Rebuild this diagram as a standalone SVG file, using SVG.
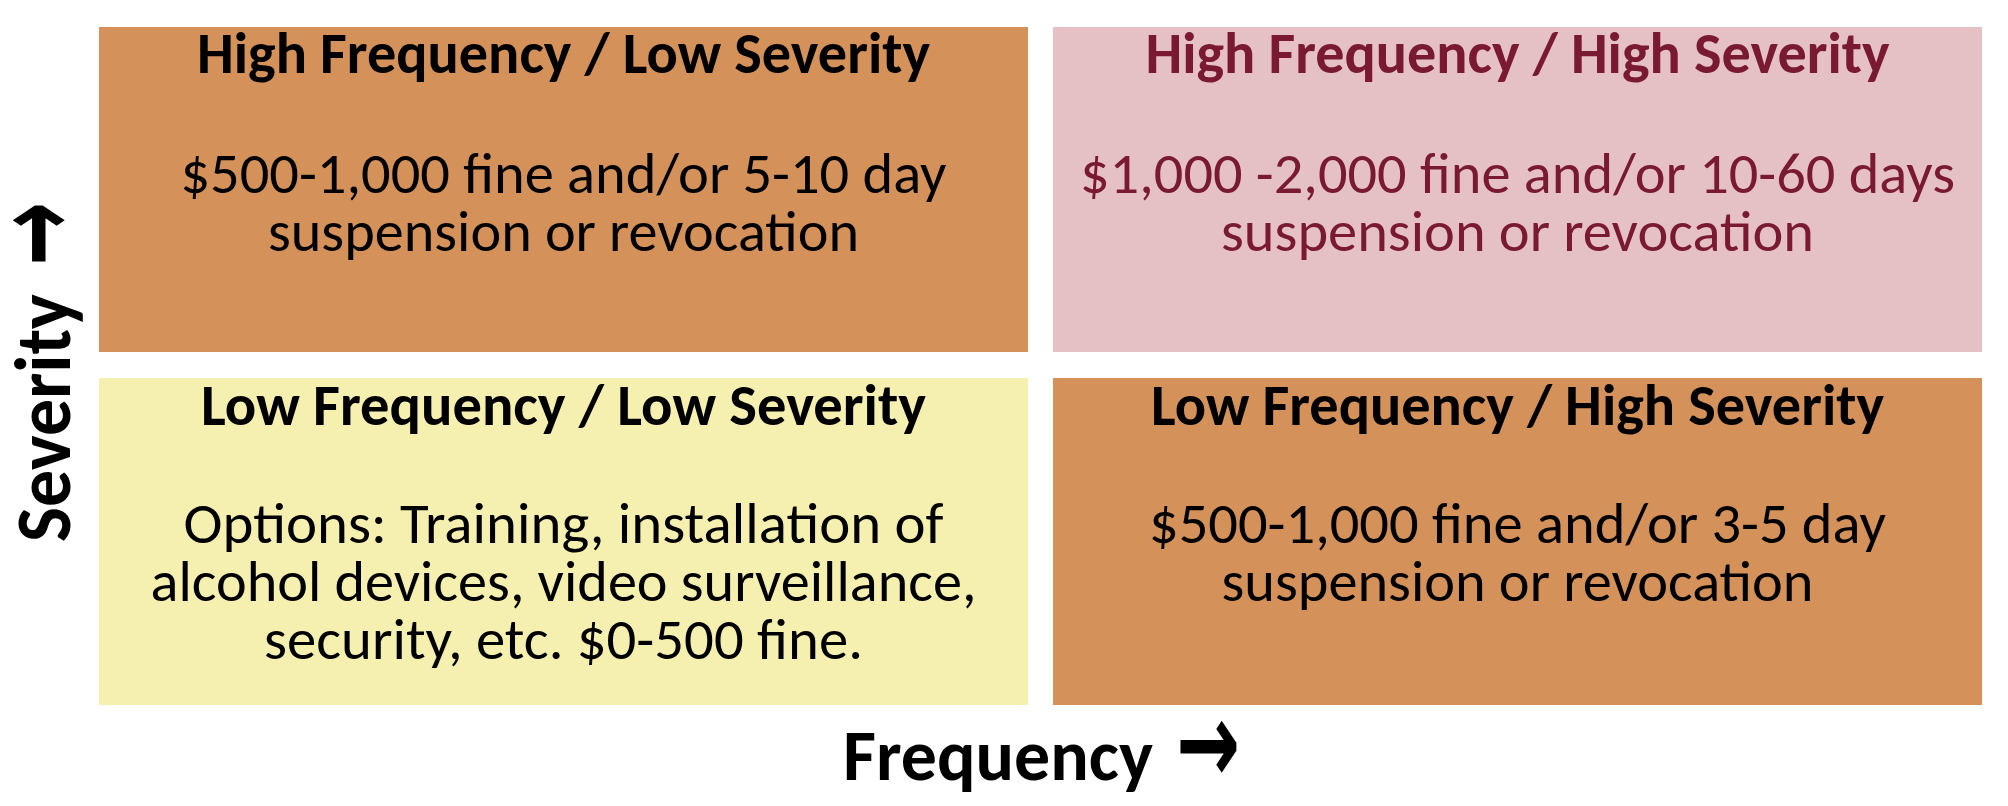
<svg xmlns="http://www.w3.org/2000/svg" width="2008" height="806" viewBox="0 0 2008 806">
<style>
.t{font-family:Carlito,Calibri,Lato,"Liberation Sans",sans-serif;font-size:58px;text-anchor:middle;fill:#000}
.b{font-weight:bold}
.red{fill:#7a1a32}
.ax{font-family:Carlito,Calibri,Lato,"Liberation Sans",sans-serif;font-weight:bold;fill:#000}
.arr{font-family:"Noto Sans","DejaVu Sans",sans-serif;font-weight:bold;font-size:115px}
</style>
<rect width="2008" height="806" fill="#fff"/>
<g id="hf-ls">
<rect x="99" y="27" width="929" height="325" fill="#d4915a"/>
<text class="t b" x="563.5" y="73" textLength="733" lengthAdjust="spacingAndGlyphs">High Frequency / Low Severity</text>
<text class="t"><tspan x="563.5" y="193" textLength="766" lengthAdjust="spacingAndGlyphs">$500-1,000 fine and/or 5-10 day</tspan><tspan x="563.5" y="251" textLength="591" lengthAdjust="spacingAndGlyphs">suspension or revocation</tspan></text>
</g>
<g id="hf-hs">
<rect x="1053" y="27" width="929" height="325" fill="#e5c1c6"/>
<text class="t b red" x="1517.5" y="73" textLength="744" lengthAdjust="spacingAndGlyphs">High Frequency / High Severity</text>
<text class="t red"><tspan x="1517.5" y="193" textLength="875" lengthAdjust="spacingAndGlyphs">$1,000 -2,000 fine and/or 10-60 days</tspan><tspan x="1517.5" y="251" textLength="593" lengthAdjust="spacingAndGlyphs">suspension or revocation</tspan></text>
</g>
<g id="lf-ls">
<rect x="99" y="378" width="929" height="327" fill="#f6f0b0"/>
<text class="t b" x="563.5" y="425" textLength="725" lengthAdjust="spacingAndGlyphs">Low Frequency / Low Severity</text>
<text class="t"><tspan x="563.5" y="543" textLength="760" lengthAdjust="spacingAndGlyphs">Options: Training, installation of</tspan><tspan x="563.5" y="601" textLength="826" lengthAdjust="spacingAndGlyphs">alcohol devices, video surveillance,</tspan><tspan x="563.5" y="659" textLength="599" lengthAdjust="spacingAndGlyphs">security, etc. $0-500 fine.</tspan></text>
</g>
<g id="lf-hs">
<rect x="1053" y="378" width="929" height="327" fill="#d4915a"/>
<text class="t b" x="1517.5" y="425" textLength="733" lengthAdjust="spacingAndGlyphs">Low Frequency / High Severity</text>
<text class="t"><tspan x="1517.5" y="543" textLength="737" lengthAdjust="spacingAndGlyphs">$500-1,000 fine and/or 3-5 day</tspan><tspan x="1517.5" y="601" textLength="592" lengthAdjust="spacingAndGlyphs">suspension or revocation</tspan></text>
</g>
<g id="axis-frequency">
<text class="ax" y="780" font-size="72"><tspan x="843" textLength="310" lengthAdjust="spacingAndGlyphs">Frequency</tspan> <tspan class="arr" x="1176" y="783" textLength="64" lengthAdjust="spacingAndGlyphs">→</tspan></text>
</g>
<g id="axis-severity">
<text class="ax" transform="translate(70 542) rotate(-90)" y="0" font-size="79"><tspan x="0" textLength="248" lengthAdjust="spacingAndGlyphs">Severity</tspan> <tspan class="arr" x="276" y="5" textLength="64" lengthAdjust="spacingAndGlyphs">→</tspan></text>
</g>
</svg>
